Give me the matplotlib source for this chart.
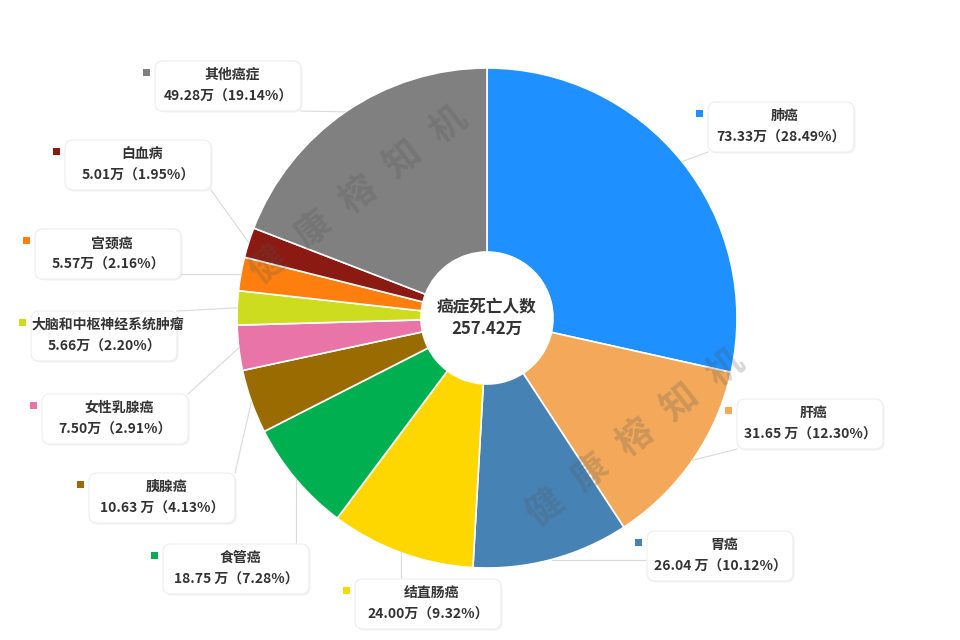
import matplotlib.pyplot as plt
from matplotlib.patches import FancyBboxPatch, Rectangle
import numpy as np

plt.rcParams['font.family'] = ['Noto Sans CJK SC', 'DejaVu Sans']

# data
names = ['肺癌', '肝癌', '胃癌', '结直肠癌', '食管癌', '胰腺癌', '女性乳腺癌',
         '大脑和中枢神经系统肿瘤', '宫颈癌', '白血病', '其他癌症']
values = [73.33, 31.65, 26.04, 24.00, 18.75, 10.63, 7.50, 5.66, 5.57, 5.01, 49.28]
value_labels = ['73.33万（28.49%）', '31.65 万（12.30%）', '26.04 万（10.12%）',
                '24.00万（9.32%）', '18.75 万（7.28%）', '10.63 万（4.13%）',
                '7.50万（2.91%）', '5.66万（2.20%）', '5.57万（2.16%）',
                '5.01万（1.95%）', '49.28万（19.14%）']
colors = ['#1E90FF', '#F4A95A', '#4682B4', '#FFD700', '#00B050', '#9A6B00',
          '#E874A8', '#CDDC1E', '#FF7F0E', '#8B1A12', '#808080']
total_label = '癌症死亡人数\n257.42万'
watermark = '健康榕知机'

# layout (pixel coords, origin top-left)
box_centers = [(781, 127), (810, 424), (720, 556), (428, 604), (236, 569),
               (162, 498), (115, 419), (104, 336), (108, 254), (138, 165),
               (228, 86)]
H = 640
cx, cy, R, hole = 487, H - 318, 250, 66
bw, bh = 146, 50

fig = plt.figure(figsize=(9.6, 6.4), dpi=100)
ax = fig.add_axes([0, 0, 1, 1])
wedges, _ = ax.pie(values, colors=colors, startangle=90, counterclock=False,
                   center=(cx, cy), radius=R,
                   wedgeprops=dict(width=R - hole, edgecolor='white', linewidth=1.2))
ax.set_xlim(0, 960)
ax.set_ylim(0, 640)
ax.set_aspect('equal')
ax.axis('off')

ax.text(cx, cy, total_label, ha='center', va='center', fontsize=12,
        fontweight='bold', color='#333333', linespacing=1.3, zorder=5)

# watermark, one char at a time along a slanted line
ang = np.deg2rad(38)
step = 57
for (wx, wy) in [(358, 195), (635, 438)]:
    for k, ch in enumerate(watermark):
        d = (k - 2) * step
        ax.text(wx + d * np.cos(ang), H - wy + d * np.sin(ang), ch, fontsize=26,
                fontweight='bold', color='#555555', alpha=0.24, rotation=38,
                ha='center', va='center', zorder=4)

for w, name, vl, col, (bx, by) in zip(wedges, names, value_labels, colors, box_centers):
    mid = np.deg2rad((w.theta1 + w.theta2) / 2)
    tx, ty = cx + R * np.cos(mid), cy + R * np.sin(mid)
    by = H - by
    x0, y0 = bx - bw / 2, by - bh / 2
    # leader line to nearest point of box
    ax_ = min(max(tx, x0), x0 + bw)
    ay_ = min(max(ty, y0), y0 + bh)
    ax.plot([tx, ax_], [ty, ay_], color='#DADADA', lw=0.8, zorder=1)
    # shadow + box
    ax.add_patch(FancyBboxPatch((x0 + 1.5, y0 - 1.5), bw, bh,
                                boxstyle='round,pad=0,rounding_size=8',
                                fc='#000000', ec='none', alpha=0.05, zorder=2))
    ax.add_patch(FancyBboxPatch((x0, y0), bw, bh,
                                boxstyle='round,pad=0,rounding_size=8',
                                fc='white', ec='#EEEEEE', lw=0.8, zorder=3))
    ax.add_patch(Rectangle((x0 - 12, y0 + bh - 15), 7, 7, fc=col, ec='none', zorder=3))
    ax.text(bx + 4, by + 11, name, ha='center', va='center', fontsize=10,
            fontweight='bold', color='#333333', zorder=4)
    ax.text(bx, by - 11, vl, ha='center', va='center', fontsize=10,
            fontweight='bold', color='#333333', zorder=4)

fig.savefig('out.png', dpi=100, facecolor='white')
